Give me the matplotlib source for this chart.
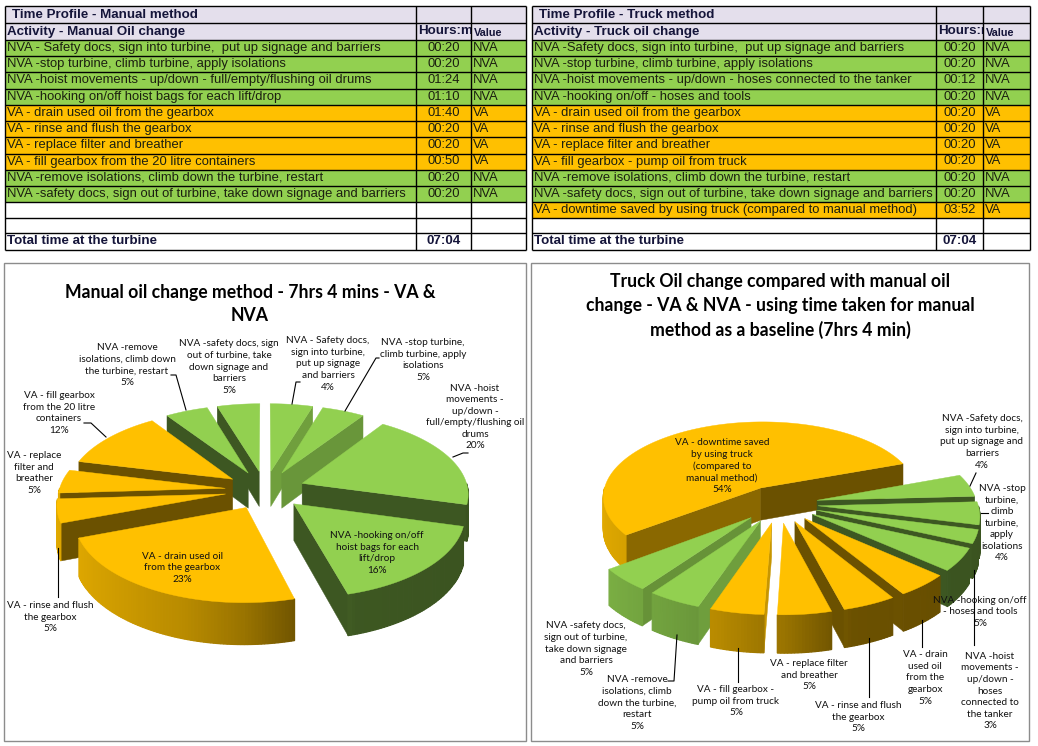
"""Time profile tables and exploded 3-D pies for manual vs truck oil change."""
import numpy as np
import matplotlib
matplotlib.use("Agg")
import matplotlib.pyplot as plt
from matplotlib.patches import Polygon, Rectangle

# ---- data
manual_activities = [
    "NVA - Safety docs, sign into turbine,  put up signage and barriers",
    "NVA -stop turbine, climb turbine, apply isolations",
    "NVA -hoist movements - up/down - full/empty/flushing oil drums",
    "NVA -hooking on/off hoist bags for each lift/drop",
    "VA - drain used oil from the gearbox",
    "VA - rinse and flush the gearbox",
    "VA - replace filter and breather",
    "VA - fill gearbox from the 20 litre containers",
    "NVA -remove isolations, climb down the turbine, restart",
    "NVA -safety docs, sign out of turbine, take down signage and barriers",
]
manual_times = ["00:20", "00:20", "01:24", "01:10", "01:40", "00:20", "00:20", "00:50", "00:20", "00:20"]
manual_kinds = ["NVA", "NVA", "NVA", "NVA", "VA", "VA", "VA", "VA", "NVA", "NVA"]
manual_minutes = [20, 20, 84, 70, 100, 20, 20, 50, 20, 20]
manual_labels = [
    "NVA - Safety docs,\nsign into turbine,\nput up signage\nand barriers\n4%",
    "NVA -stop turbine,\nclimb turbine, apply\nisolations\n5%",
    "NVA -hoist\nmovements -\nup/down -\nfull/empty/flushing oil\ndrums\n20%",
    "NVA -hooking on/off\nhoist bags for each\nlift/drop\n16%",
    "VA - drain used oil\nfrom the gearbox\n23%",
    "VA - rinse and flush\nthe gearbox\n5%",
    "VA - replace\nfilter and\nbreather\n5%",
    "VA - fill gearbox\nfrom the 20 litre\ncontainers\n12%",
    "NVA -remove\nisolations, climb down\nthe turbine, restart\n5%",
    "NVA -safety docs, sign\nout of turbine, take\ndown signage and\nbarriers\n5%",
]

truck_activities = [
    "NVA -Safety docs, sign into turbine,  put up signage and barriers",
    "NVA -stop turbine, climb turbine, apply isolations",
    "NVA -hoist movements - up/down - hoses connected to the tanker",
    "NVA -hooking on/off - hoses and tools",
    "VA - drain used oil from the gearbox",
    "VA - rinse and flush the gearbox",
    "VA - replace filter and breather",
    "VA - fill gearbox - pump oil from truck",
    "NVA -remove isolations, climb down the turbine, restart",
    "NVA -safety docs, sign out of turbine, take down signage and barriers",
    "VA - downtime saved by using truck (compared to manual method)",
]
truck_times = ["00:20", "00:20", "00:12", "00:20", "00:20", "00:20", "00:20", "00:20", "00:20", "00:20", "03:52"]
truck_kinds = ["NVA", "NVA", "NVA", "NVA", "VA", "VA", "VA", "VA", "NVA", "NVA", "VA"]
truck_minutes = [20, 20, 12, 20, 20, 20, 20, 20, 20, 20, 232]
truck_labels = [
    "NVA -Safety docs,\nsign into turbine,\nput up signage and\nbarriers\n4%",
    "NVA -stop\nturbine,\nclimb\nturbine,\napply\nisolations\n4%",
    "NVA -hoist\nmovements -\nup/down -\nhoses\nconnected to\nthe tanker\n3%",
    "NVA -hooking on/off\n- hoses and tools\n5%",
    "VA - drain\nused oil\nfrom the\ngearbox\n5%",
    "VA - rinse and flush\nthe gearbox\n5%",
    "VA - replace filter\nand breather\n5%",
    "VA - fill gearbox -\npump oil from truck\n5%",
    "NVA -remove\nisolations, climb\ndown the turbine,\nrestart\n5%",
    "NVA -safety docs,\nsign out of turbine,\ntake down signage\nand barriers\n5%",
    "VA - downtime saved\nby using truck\n(compared to\nmanual method)\n54%",
]
total_time = "07:04"
total_label = "Total time at the turbine"
manual_title = "Manual oil change method - 7hrs 4 mins - VA &\nNVA"
truck_title = ("Truck Oil change compared with manual oil\n"
               "change - VA & NVA - using time taken for manual\n"
               "method as a baseline (7hrs 4 min)")

# ---- layout, in pixels of the 1038x746 picture
manual_label_xy = [(328, 364), (423, 360), (475, 417), (377, 553), (182, 568),
                   (50, 617), (34, 473), (59, 413), (127, 365), (229, 367)]
truck_label_xy = [(982, 442), (1002, 523), (990, 691), (980, 612), (925, 678),
                  (858, 717), (809, 675), (736, 701), (637, 703), (586, 649), (722, 466)]
manual_leaders = [
    [(292, 404), (296, 382), (300, 382)], [(345, 411), (376, 358), (379, 358)],
    [(453, 457), (463, 453), (468, 453)], [(106, 437), (91, 423), (84, 423)],
    [(58, 548), (58, 597)], [(186, 410), (176, 375), (171, 375)],
]
truck_leaders = [
    [(970, 486), (976, 473)], [(981, 513), (988, 513)], [(974, 570), (974, 645)],
    [(922, 620), (922, 647)], [(869, 638), (869, 697)], [(738, 648), (738, 682)],
    [(677, 635), (674, 681), (668, 681)],
]

GREEN = "#92D050"
ORANGE = "#FFC000"
HEADER = "#E4DFEC"
TABLE_FONT = "Liberation Sans"
CHART_FONT = "Lato"
ROW_Y = [6, 23, 40, 56, 72, 88.5, 105, 121, 137, 153.5, 169.5, 186, 202, 218, 232.5, 249.5]


def shaded(color, s):
    return tuple(c * s for c in matplotlib.colors.to_rgb(color))


def draw_table(ax, x0, x1, x2, x3, title, heading, activities, times, kinds):
    ax.add_patch(Rectangle((x0, ROW_Y[0]), x3 - x0, ROW_Y[2] - ROW_Y[0], fc=HEADER, ec="none"))
    for i, kind in enumerate(kinds):
        ax.add_patch(Rectangle((x0, ROW_Y[i + 2]), x3 - x0, ROW_Y[i + 3] - ROW_Y[i + 2],
                               fc=GREEN if kind == "NVA" else ORANGE, ec="none"))
    for y in ROW_Y:
        ax.plot([x0, x3], [y, y], color="black", lw=1.0, solid_capstyle="butt")
    for x in (x0, x1, x2, x3):
        ax.plot([x, x], [ROW_Y[0], ROW_Y[-1]], color="black", lw=1.0, solid_capstyle="butt")

    head = dict(family=TABLE_FONT, fontweight="bold", color="#15153a", va="center")
    ax.text(x0 + 7, (ROW_Y[0] + ROW_Y[1]) / 2, title, fontsize=9.6, **head)
    ax.text(x0 + 2, (ROW_Y[1] + ROW_Y[2]) / 2, heading, fontsize=9.6, **head)
    # the column is too narrow for its heading, so the cell cuts it off
    hours = ax.text(x1 + 2, (ROW_Y[1] + ROW_Y[2]) / 2, "Hours:m", fontsize=9.6, clip_on=True, **head)
    hours.set_clip_path(Rectangle((x1, ROW_Y[1]), x2 - x1, ROW_Y[2] - ROW_Y[1], transform=ax.transData))
    ax.text(x2 + 3, (ROW_Y[1] + ROW_Y[2]) / 2 + 1, "Value", fontsize=7.8, **head)

    body = dict(family=TABLE_FONT, color="#1b1f10", va="center", fontsize=9.4)
    for i, (act, tm, kind) in enumerate(zip(activities, times, kinds)):
        y = (ROW_Y[i + 2] + ROW_Y[i + 3]) / 2
        ax.text(x0 + 2, y, act, **body)
        ax.text((x1 + x2) / 2, y, tm, ha="center", **body)
        ax.text(x2 + 2, y, kind, **body)
    y = (ROW_Y[-2] + ROW_Y[-1]) / 2
    ax.text(x0 + 2, y, total_label, fontsize=9.6, **head)
    ax.text((x1 + x2) / 2, y, total_time, ha="center", fontsize=9.6, **head)


def draw_pie(ax, values, kinds, start, cx, cy, radius, explode, depth, squash=0.48, persp=0.0007):
    def project(X, Y, z=0.0):
        f = 1.0 / (1.0 - persp * Y)
        return cx + X * f, cy + squash * Y * f + z * f

    fracs = np.array(values, dtype=float) / sum(values) * 360
    a0s = start + np.concatenate([[0], np.cumsum(fracs)[:-1]])
    a1s = a0s + fracs
    order = np.argsort([-np.cos(np.radians((a + b) / 2)) for a, b in zip(a0s, a1s)])

    for i in order:
        a0, a1 = a0s[i], a1s[i]
        color = GREEN if kinds[i] == "NVA" else ORANGE
        mid = np.radians((a0 + a1) / 2)
        ox, oy = explode * np.sin(mid), -explode * np.cos(mid)
        ang = np.radians(np.linspace(a0, a1, max(3, int(a1 - a0) + 1)))
        xs = ox + radius * np.sin(ang)
        ys = oy - radius * np.cos(ang)

        # radial side faces, only those facing the viewer
        for edge, normal in ((a0, a0 - 90), (a1, a1 + 90)):
            nx, ny = np.sin(np.radians(normal)), -np.cos(np.radians(normal))
            if ny <= 0:
                continue
            ex = ox + radius * np.sin(np.radians(edge))
            ey = oy - radius * np.cos(np.radians(edge))
            s = np.interp(nx, [-1, 0.35, 0.6, 0.83, 1], [0.42, 0.42, 0.54, 0.72, 0.78])
            pts = [project(ox, oy), project(ex, ey), project(ex, ey, depth), project(ox, oy, depth)]
            ax.add_patch(Polygon(pts, fc=shaded(color, s), ec=shaded(color, s), lw=0.3))

        # outer rim as thin strips, light on the left and dark on the right
        for j in range(len(ang) - 1):
            am = (ang[j] + ang[j + 1]) / 2
            if -np.cos(am) <= 0:
                continue
            s = np.interp(np.sin(am), [-1, -0.3, 0, 0.3, 1], [0.88, 0.72, 0.6, 0.42, 0.40])
            pts = [project(xs[j], ys[j]), project(xs[j + 1], ys[j + 1]),
                   project(xs[j + 1], ys[j + 1], depth), project(xs[j], ys[j], depth)]
            ax.add_patch(Polygon(pts, fc=shaded(color, s), ec=shaded(color, s), lw=0.9))

        top = [project(ox, oy)] + [project(x, y) for x, y in zip(xs, ys)]
        ax.add_patch(Polygon(top, fc=color, ec=color, lw=0.3))


def draw_labels(ax, labels, label_xy, leaders):
    for path in leaders:
        ax.plot(*zip(*path), color="black", lw=0.8, zorder=5)
    for text, (x, y) in zip(labels, label_xy):
        ax.text(x, y, text, family=CHART_FONT, fontsize=7.2, color="#111111", ha="center", va="center",
                linespacing=1.36, zorder=6)


def main():
    fig = plt.figure(figsize=(10.38, 7.46), dpi=100)
    ax = fig.add_axes([0, 0, 1, 1])
    ax.set_xlim(0, 1038)
    ax.set_ylim(746, 0)
    ax.axis("off")

    draw_table(ax, 5, 416, 471, 526, "Time Profile - Manual method", "Activity - Manual Oil change",
               manual_activities, manual_times, manual_kinds)
    draw_table(ax, 532, 936, 983, 1030, "Time Profile - Truck method", "Activity - Truck oil change",
               truck_activities, truck_times, truck_kinds)

    for x0, x1 in ((4, 526), (531, 1029)):
        ax.add_patch(Rectangle((x0, 263), x1 - x0, 478, fc="white", ec="#8c8c8c", lw=1.0))

    draw_pie(ax, manual_minutes, manual_kinds, 0, 265, 490, 166, 40, 36)
    draw_pie(ax, truck_minutes, truck_kinds, 70, 779, 504, 160, 39, 33)
    draw_labels(ax, manual_labels, manual_label_xy, manual_leaders)
    draw_labels(ax, truck_labels, truck_label_xy, truck_leaders)

    title = dict(family=CHART_FONT, fontweight="bold", fontsize=12.7, color="black", ha="center",
                 va="center", linespacing=1.48)
    ax.text(250, 304, manual_title, **title)
    ax.text(780, 306, truck_title, **title)

    fig.savefig("out.png", dpi=100, facecolor="white")
    plt.close(fig)


if __name__ == "__main__":
    main()
